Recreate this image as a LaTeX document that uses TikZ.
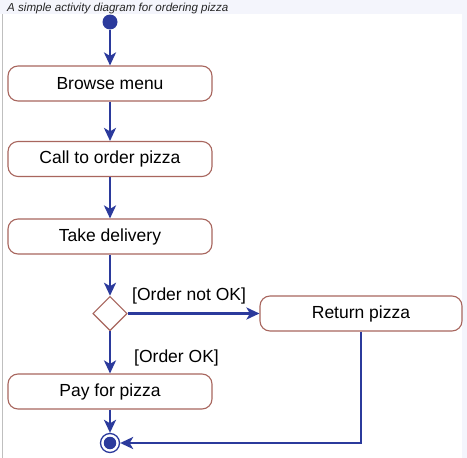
\documentclass[tikz,border=0pt]{standalone}
\usepackage{fontspec}
\setmainfont{Liberation Sans}
\usetikzlibrary{arrows.meta,positioning}
\definecolor{flow}{HTML}{2B3A9C}
\definecolor{boxline}{HTML}{A8665E}
\definecolor{strip}{HTML}{F4F5FC}
\begin{document}
\begin{tikzpicture}[x=1pt,y=-1pt,
  act/.style={draw=boxline,line width=1.1pt,rounded corners=10pt,minimum width=204pt,minimum height=35pt,inner sep=0pt,font=\fontsize{17.5}{19}\selectfont,fill=white},
  flowline/.style={draw=flow,line width=2.6pt,-{Stealth[length=13pt,width=12pt,inset=3.5pt]}},
  guard/.style={font=\fontsize{17.5}{19}\selectfont,inner sep=0pt,anchor=west}]
\useasboundingbox (0,0) rectangle (467,458);
\fill[white] (0,0) rectangle (467,458);
\fill[strip] (0,0) rectangle (467,14);
\fill[strip] (462,0) rectangle (467,458);
\draw[black!25,line width=1pt] (2.5,14) -- (2.5,458);
\node[font=\fontsize{11.6}{13}\selectfont\itshape,anchor=west,inner sep=0pt,text=black!85] (title) at (7,9) {A simple activity diagram for ordering pizza};
\node[circle,fill=flow,minimum size=15pt,inner sep=0pt] (start) at (110,22) {};
\node[act] (browse) at (110,83.5) {Browse menu};
\node[act] (call) at (110,159) {Call to order pizza};
\node[act] (take) at (110,236.5) {Take delivery};
\node[draw=boxline,line width=1.1pt,fill=white,shape=rectangle,rotate=45,minimum size=24pt,inner sep=0pt] (dec) at (110,313.5) {};
\node[act,minimum width=202pt] (ret) at (361,313.5) {Return pizza};
\node[act] (pay) at (110,391.5) {Pay for pizza};
\node[circle,draw=flow,line width=1.3pt,fill=white,minimum size=19pt,inner sep=0pt] (end) at (110,443) {};
\node[circle,fill=flow,minimum size=12.5pt,inner sep=0pt] (endin) at (110,443) {};
\draw[flowline] (start) -- (browse);
\draw[flowline] (browse) -- (call);
\draw[flowline] (call) -- (take);
\draw[flowline] (take) -- (dec.north east);
\draw[flowline] (dec.south west) -- (pay);
\draw[flowline] (dec.south east) -- (ret.west);
\draw[flowline] (pay) -- (end);
\draw[flowline] (ret.south) |- (end);
\node[guard] (notok) at (132,296) {[Order not OK]};
\node[guard] (ok) at (134,357.5) {[Order OK]};
\end{tikzpicture}
\end{document}
